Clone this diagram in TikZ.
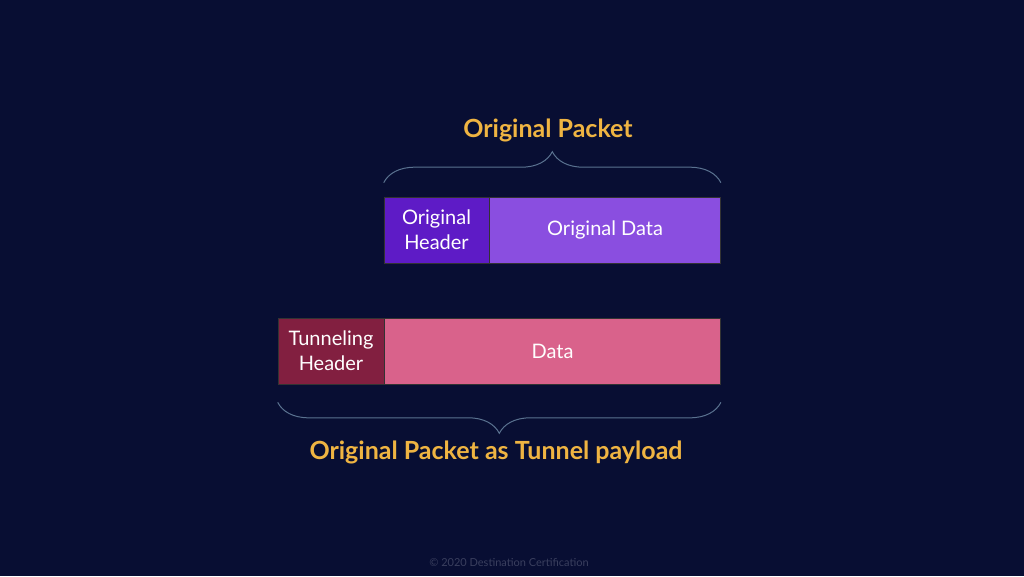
\documentclass[tikz,border=0pt]{standalone}
\usepackage{fontspec}
\setmainfont{Lato}
\usepackage{xcolor}
\usetikzlibrary{positioning,decorations.pathreplacing}
\definecolor{slidebg}{HTML}{080E33}
\definecolor{hdrpurple}{HTML}{5E1BC6}
\definecolor{datapurple}{HTML}{8A4EE0}
\definecolor{hdrmaroon}{HTML}{821F40}
\definecolor{datapink}{HTML}{D9628B}
\definecolor{titlegold}{HTML}{EFB442}
\definecolor{bracegray}{HTML}{5A7290}
\definecolor{footgray}{HTML}{3A3F5E}

\begin{document}
\begin{tikzpicture}[x=1pt,y=-1pt]
\tikzset{field/.style={draw=black!80,line width=0.6pt,text=white,align=center,minimum height=66pt,inner sep=0pt,font=\fontsize{20}{25}\selectfont},
  title/.style={text=titlegold,font=\bfseries\fontsize{25}{30}\selectfont},
  bracket/.style={draw=bracegray,line width=1pt,decorate,decoration={brace,amplitude=31pt}}}
\fill[slidebg] (0,0) rectangle (1024,576);
\node[field,fill=hdrpurple,minimum width=105pt] (orighdr) at (436.5,230) {Original\\Header};
\node[field,fill=datapurple,minimum width=231pt,right=0pt of orighdr] (origdata) {Original Data};
\node[field,fill=hdrmaroon,minimum width=106pt] (tunhdr) at (331,351) {Tunneling\\Header};
\node[field,fill=datapink,minimum width=336pt,right=0pt of tunhdr] (tundata) {Data};
\draw[bracket] ([yshift=14pt]orighdr.north west) -- ([yshift=14pt]origdata.north east);
\draw[bracket] ([yshift=-18pt]tundata.south east) -- ([yshift=-18pt]tunhdr.south west);
\node[title] (origtitle) at (548,130) {Original Packet};
\node[title] (payloadtitle) at (496,452) {Original Packet as Tunnel payload};
\node[text=footgray,font=\fontsize{11}{13}\selectfont] (footer) at (509,562) {\textcopyright{} 2020 Destination Certification};
\end{tikzpicture}
\end{document}
